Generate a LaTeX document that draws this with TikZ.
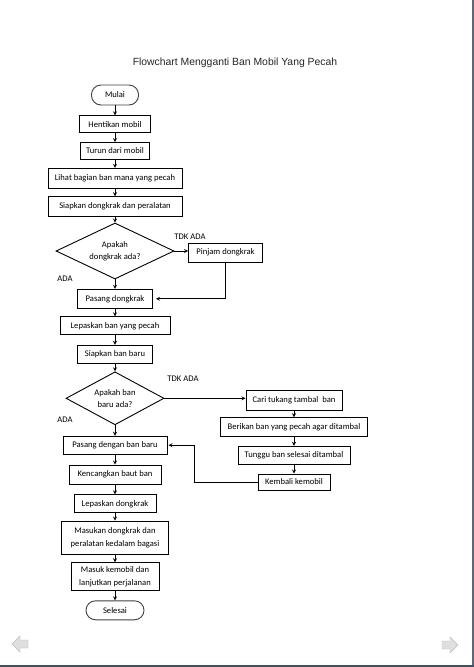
\documentclass[tikz,border=0pt]{standalone}
\usepackage{fontspec}
\setmainfont{Carlito}
\newfontfamily\judul{Liberation Sans}
\usetikzlibrary{shapes.geometric}
\definecolor{bingkai}{HTML}{3E5367}
\definecolor{sisi}{HTML}{5A6979}

\begin{document}
\begin{tikzpicture}[x=1pt,y=-1pt,
  kotak/.style={draw,line width=0.9pt,minimum height=18pt,inner sep=1pt,align=center,font=\fontsize{8.6}{12.5}\selectfont},
  ujung/.style={kotak,rounded corners=9.5pt,minimum height=20pt,draw=black!75},
  cek/.style={draw,diamond,line width=0.9pt,aspect=2,inner sep=0pt,align=center,font=\fontsize{8.6}{12.5}\selectfont},
  panah/.style={-stealth,line width=0.8pt},
  ket/.style={font=\fontsize{8.6}{10}\selectfont}]
\pgfmathsetmacro\m{115}
\pgfmathsetmacro\k{294}
\useasboundingbox (0,0) rectangle (474,667);
\fill[white] (0,0) rectangle (474,667);
\fill[sisi] (471.5,0) rectangle (474,667);
\fill[bingkai] (0,664.5) rectangle (474,667);
\filldraw[fill=gray!25,draw=gray!50] (12,644) -- (20,636) -- (20,640) -- (28,640) -- (28,648) -- (20,648) -- (20,652) -- cycle;
\filldraw[fill=gray!25,draw=gray!50] (458,645) -- (450,637) -- (450,641) -- (442,641) -- (442,649) -- (450,649) -- (450,653) -- cycle;
\node[font=\judul\fontsize{10.4}{12}\selectfont,text=black!85] (judul) at (235,63) {Flowchart Mengganti Ban Mobil Yang Pecah};
\node[ujung,minimum width=47pt] (mulai) at (\m,95) {Mulai};
\node[kotak,minimum width=71pt,minimum height=17pt] (henti) at (\m,124.3) {Hentikan mobil};
\node[kotak,minimum width=69pt,minimum height=17pt] (turun) at (\m,151) {Turun dari mobil};
\node[kotak,minimum width=134pt,minimum height=20pt] (lihat) at (\m,178.3) {Lihat bagian ban mana yang pecah};
\node[kotak,minimum width=134pt,minimum height=20pt] (siap) at (\m,206.7) {Siapkan dongkrak dan peralatan};
\node[cek,minimum width=118pt,minimum height=56pt] (cek1) at (\m,251) {Apakah\\dongkrak ada?};
\node[kotak,minimum width=74pt,minimum height=19pt] (pinjam) at (225.5,252.5) {Pinjam dongkrak};
\node[kotak,minimum width=75pt,minimum height=19pt] (pasang) at (\m,298.8) {Pasang dongkrak};
\node[kotak,minimum width=110pt] (lepas) at (\m,325.8) {Lepaskan ban yang pecah};
\node[kotak,minimum width=75pt] (siapban) at (\m,354.2) {Siapkan ban baru};
\node[cek,minimum width=98pt,minimum height=53pt] (cek2) at (\m,398.3) {Apakah ban\\baru ada?};
\node[kotak,minimum width=96pt,minimum height=20pt] (cari) at (\k,400) {Cari tukang tambal\ \ ban};
\node[kotak,minimum width=147pt,minimum height=19pt] (beri) at (\k,427.2) {Berikan ban yang pecah agar ditambal};
\node[kotak,minimum width=112pt] (tunggu) at (\k,455.2) {Tunggu ban selesai ditambal};
\node[kotak,minimum width=72pt,minimum height=16pt] (kembali) at (\k,482) {Kembali kemobil};
\node[kotak,minimum width=104pt] (pasangbaru) at (\m,445.2) {Pasang dengan ban baru};
\node[kotak,minimum width=92pt,minimum height=19pt] (kencang) at (\m,474.5) {Kencangkan baut ban};
\node[kotak,minimum width=82pt] (lepasdk) at (\m,503.8) {Lepaskan dongkrak};
\node[kotak,minimum width=107pt,minimum height=33pt] (masukan) at (\m,537.5) {Masukan dongkrak dan\\peralatan kedalam bagasi};
\node[kotak,minimum width=88pt,minimum height=28pt] (masuk) at (\m,576.7) {Masuk kemobil dan\\lanjutkan perjalanan};
\node[ujung,minimum width=58pt,minimum height=19pt] (selesai) at (\m,610.3) {Selesai};
\node[ket] (tdk1) at (190,237) {TDK ADA};
\node[ket] (ada1) at (65,279) {ADA};
\node[ket] (tdk2) at (183,379) {TDK ADA};
\node[ket] (ada2) at (65,420) {ADA};
\coordinate (belok) at (194,445.2);
\draw[panah] (mulai) -- (henti);
\draw[panah] (henti) -- (turun);
\draw[panah] (turun) -- (lihat);
\draw[panah] (lihat) -- (siap);
\draw[panah] (siap) -- (cek1);
\draw[panah] (cek1.east) -- (cek1.east -| pinjam.west);
\draw[panah,shorten >=3pt] (pinjam.south) |- (pasang.east);
\draw[panah] (cek1) -- (pasang);
\draw[panah] (pasang) -- (lepas);
\draw[panah] (lepas) -- (siapban);
\draw[panah] (siapban) -- (cek2);
\draw[panah] (cek2.east) -- (cek2.east -| cari.west);
\draw[panah] (cari) -- (beri);
\draw[panah] (beri) -- (tunggu);
\draw[panah] (tunggu) -- (kembali);
\draw[panah,shorten >=1pt] (kembali.west) -| (belok) -- (pasangbaru.east);
\draw[panah] (cek2) -- (pasangbaru);
\draw[panah] (pasangbaru) -- (kencang);
\draw[panah] (kencang) -- (lepasdk);
\draw[panah] (lepasdk) -- (masukan);
\draw[panah] (masukan) -- (masuk);
\draw[panah] (masuk) -- (selesai);
\end{tikzpicture}
\end{document}
